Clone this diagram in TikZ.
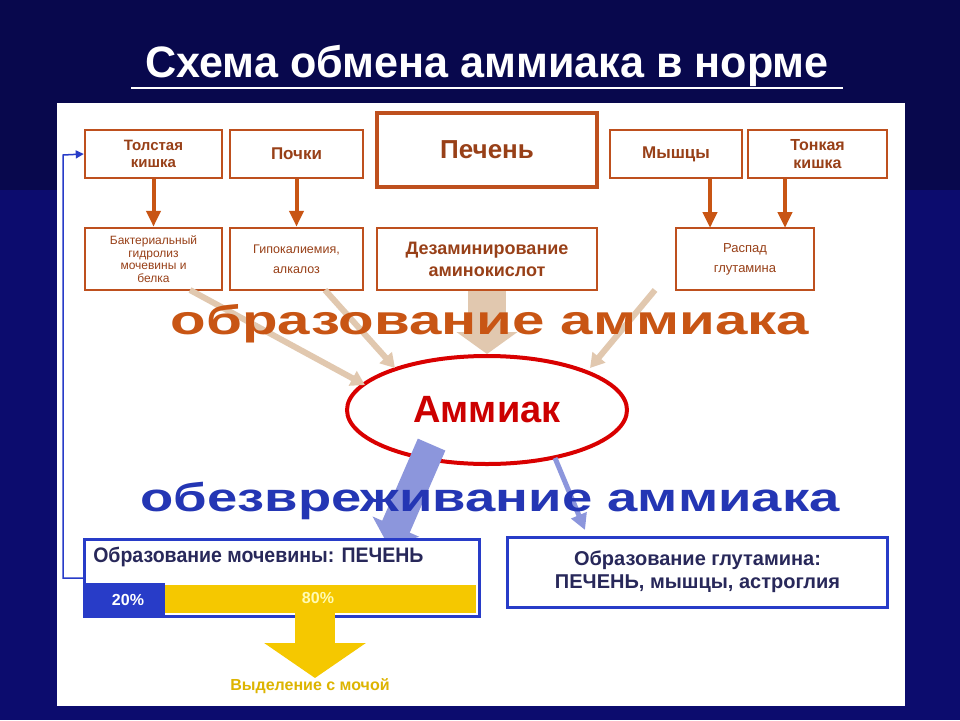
\documentclass[tikz,border=0pt]{standalone}
\usepackage{fontspec}
\setmainfont{Liberation Sans}
\usetikzlibrary{arrows.meta,shapes.geometric,patterns}
\definecolor{navy}{RGB}{12,12,110}
\definecolor{ob}{RGB}{190,80,30}
\definecolor{oba}{RGB}{200,85,20}
\definecolor{beige}{RGB}{225,200,175}
\definecolor{bluebox}{RGB}{40,60,200}
\definecolor{lblue}{RGB}{140,150,220}
\definecolor{yel}{RGB}{245,200,0}
\definecolor{txt}{RGB}{40,40,90}
\begin{document}
\begin{tikzpicture}[x=1pt,y=-1pt,
 obox/.style={draw=ob,line width=2.5pt,fill=white,text=ob!80!black,align=center,font=\fontsize{13}{14}\selectfont\bfseries},
 bbox/.style={draw=bluebox,line width=3pt,fill=white,align=center,text=txt},
 darr/.style={-{Triangle[width=14pt,length=16pt]},line width=4pt,oba},
 sarr/.style={-{Triangle[width=16pt,length=14pt]},line width=6pt,beige}]
\fill[navy] (0,0) rectangle (960,720);
\fill[navy!70!black] (0,0) rectangle (960,190);
\useasboundingbox (0,0) rectangle (960,720);
\fill[white] (57,103) rectangle (905,706);
\node[text=white,font=\fontsize{44}{46}\selectfont\bfseries,xscale=0.98] (title) at (487,66) {Схема обмена аммиака в норме};
\draw[white,line width=2.5pt] (131,88) -- (843,88);
% top boxes
\node[obox,minimum width=137,minimum height=48,font=\fontsize{15}{17}\selectfont\bfseries] (tk) at (153.5,154) {Толстая\\кишка};
\node[obox,minimum width=133,minimum height=48,font=\fontsize{17}{17}\selectfont\bfseries] (po) at (296.5,154) {Почки};
\node[obox,line width=3.5pt,minimum width=220,minimum height=74,font=\fontsize{26}{26}\selectfont\bfseries] (pe) at (487,150) {Печень};
\node[obox,minimum width=132,minimum height=48,font=\fontsize{17}{17}\selectfont\bfseries] (my) at (676,154) {Мышцы};
\node[obox,minimum width=139,minimum height=48,font=\fontsize{16}{18}\selectfont\bfseries] (tn) at (817.5,154) {Тонкая\\кишка};
% lower boxes
\node[obox,minimum width=137,minimum height=62,font=\fontsize{12}{12.5}\selectfont] (ba) at (153.5,259) {Бактериальный\\гидролиз\\мочевины и\\белка};
\node[obox,minimum width=133,minimum height=62,font=\fontsize{12.5}{20}\selectfont] (gi) at (296.5,259) {Гипокалиемия,\\алкалоз};
\node[obox,minimum width=220,minimum height=62,font=\fontsize{18}{22}\selectfont\bfseries] (de) at (487,259) {Дезаминирование\\аминокислот};
\node[obox,minimum width=138,minimum height=62,font=\fontsize{13}{20}\selectfont] (ra) at (745,259) {Распад\\глутамина};
\draw[darr] (tk.south) -- (ba.north);
\draw[darr] (po.south) -- (gi.north);
\draw[darr] (my.south -| 710,0) -- (710,228);
\draw[darr] (tn.south -| 785,0) -- (785,228);
% ellipse
\node[ellipse,draw=red!85!black,line width=4pt,minimum width=280,minimum height=108,fill=white,text=red!80!black,font=\fontsize{38}{38}\selectfont\bfseries] (am) at (487,410) {Аммиак};
% arrows to ammonia
\draw[-{Triangle[width=60pt,length=22pt]},line width=38pt,beige] (de.south) -- (am.north);
\draw[sarr] (190,290) -- (365,385);
\draw[sarr] (325,290) -- (395,368);
\draw[sarr] (655,290) -- (590,368);
\node[text=oba,font=\fontsize{41}{41}\selectfont\bfseries,xscale=1.42] (obr) at (490,324) {образование аммиака};
% blue arrows
\draw[-{Triangle[width=50pt,length=20pt]},line width=30pt,lblue] (am.south west) ++(45,-5) coordinate (s1) -- (388,545) coordinate (e1);
\draw[-{Triangle[width=16pt,length=16pt]},line width=5pt,lblue] (555,458) -- (585,530);
\node[text=bluebox!90!black,font=\fontsize{40}{40}\selectfont\bfseries,xscale=1.36] (obz) at (490,501) {обезвреживание аммиака};
% urea box
\node[bbox,minimum width=395,minimum height=77,anchor=north west] (ur) at (83,538) {};
\node[anchor=west,text=txt,font=\fontsize{21}{21}\selectfont\bfseries,xscale=0.93] (urt) at (90,557) {Образование мочевины: ПЕЧЕНЬ};
\fill[bluebox] (83,583) rectangle (165,615);
\fill[yel] (165,585) rectangle (476,613);
\node[text=white,font=\fontsize{16}{16}\selectfont\bfseries] (p20) at (128,600) {20\%};
\node[text=yellow!30,font=\fontsize{16}{16}\selectfont\bfseries] (p80) at (318,598) {80\%};
\coordinate (ys) at (315,613);
\coordinate (ye) at (315,678);
\draw[-{Triangle[width=100pt,length=35pt]},line width=40pt,yel] (ys) -- (ye);
\node[text=yel!90!black,font=\fontsize{16}{16}\selectfont\bfseries] (vy) at (310,686) {Выделение с мочой};
% glutamine box
\node[bbox,minimum width=380,minimum height=70,font=\fontsize{20}{23}\selectfont\bfseries] (gl) at (697.5,572) {Образование глутамина:\\ПЕЧЕНЬ, мышцы, астроглия};
% feedback
\coordinate (f1) at (63,578);
\coordinate (f2) at (63,155);
\draw[bluebox,line width=1.5pt,-{Triangle[width=8pt,length=8pt]}] (ur.west |- f1) -- (f1) -- (f2) -- (tk.west);
\end{tikzpicture}
\end{document}
